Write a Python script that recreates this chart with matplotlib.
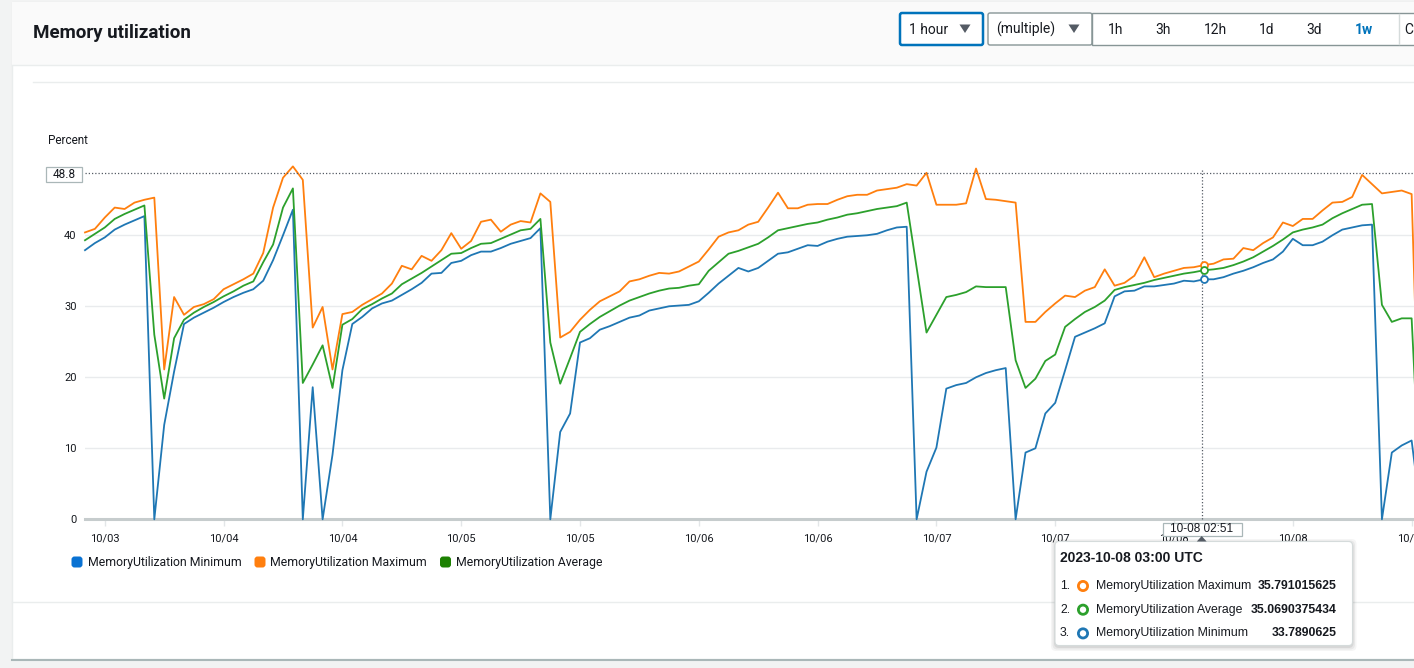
import numpy as np
import pandas as pd
import matplotlib
matplotlib.use("Agg")
import matplotlib.pyplot as plt
import matplotlib.dates as mdates
from matplotlib.patches import FancyBboxPatch, Rectangle, Polygon, Circle

# hourly samples starting 2023-10-03 10:00 UTC
times = pd.date_range("2023-10-03 10:00", periods=136, freq="h")

mem_min = [
    37.9, 38.9, 39.7, 40.8, 41.5, 42.1, 42.7, 0.0, 13.3, 20.8,
    27.5, 28.4, 29.1, 29.8, 30.6, 31.3, 31.9, 32.4, 33.6, 36.5,
    40.0, 43.6, 0.0, 18.6, 0.0, 9.1, 21.0, 27.5, 28.5, 29.7,
    30.4, 30.8, 31.6, 32.4, 33.3, 34.6, 34.7, 36.1, 36.4, 37.2,
    37.7, 37.7, 38.2, 38.8, 39.2, 39.6, 41.0, 0.0, 12.3, 14.9,
    24.9, 25.5, 26.7, 27.2, 27.8, 28.4, 28.7, 29.4, 29.7, 30.0,
    30.1, 30.2, 30.7, 31.9, 33.2, 34.3, 35.4, 34.9, 35.4, 36.4,
    37.4, 37.6, 38.1, 38.6, 38.5, 39.1, 39.5, 39.8, 39.9, 40.0,
    40.2, 40.7, 41.1, 41.2, 0.0, 6.7, 10.1, 18.4, 18.9, 19.2,
    20.0, 20.6, 21.0, 21.3, 0.0, 9.4, 10.0, 14.9, 16.4, 21.0,
    25.7, 26.3, 26.9, 27.6, 31.4, 32.1, 32.2, 32.8, 32.8, 33.0,
    33.2, 33.6, 33.5, 33.7890625, 33.8, 34.1, 34.6, 35.0, 35.5, 36.1,
    36.6, 37.7, 39.5, 38.6, 38.6, 39.1, 40.0, 40.8, 41.1, 41.4,
    41.5, 0.0, 9.4, 10.4, 11.1, 0.0,
]
mem_max = [
    40.4, 40.9, 42.5, 43.9, 43.7, 44.6, 45.0, 45.3, 21.1, 31.3,
    28.8, 29.9, 30.3, 31.0, 32.4, 33.1, 33.8, 34.6, 37.5, 43.9,
    48.1, 49.7, 47.8, 27.0, 29.9, 21.1, 28.9, 29.2, 30.2, 31.0,
    31.8, 33.2, 35.7, 35.2, 37.1, 36.4, 37.9, 40.3, 38.1, 39.2,
    41.9, 42.2, 40.5, 41.5, 42.0, 41.8, 45.9, 44.7, 25.6, 26.4,
    28.1, 29.5, 30.7, 31.4, 32.1, 33.5, 33.8, 34.3, 34.7, 34.6,
    34.9, 35.6, 36.3, 38.0, 39.8, 40.4, 40.7, 41.5, 41.9, 43.9,
    46.0, 43.8, 43.8, 44.3, 44.4, 44.4, 45.0, 45.5, 45.7, 45.7,
    46.3, 46.5, 46.7, 47.2, 47.0, 48.8, 44.3, 44.3, 44.3, 44.5,
    49.4, 45.1, 45.0, 44.8, 44.6, 27.8, 27.8, 29.2, 30.4, 31.5,
    31.3, 32.2, 32.7, 35.2, 32.9, 33.3, 34.3, 36.9, 34.1, 34.6,
    35.0, 35.4, 35.5, 35.791015625, 36.0, 36.6, 36.7, 38.2, 37.9, 38.9,
    39.7, 41.8, 41.3, 42.3, 42.3, 43.5, 44.6, 44.7, 45.4, 48.5,
    47.2, 45.9, 46.1, 46.3, 45.8, 0.0,
]
mem_avg = [
    39.3, 40.2, 41.1, 42.3, 43.0, 43.6, 44.2, 26.0, 17.0, 25.5,
    28.1, 29.1, 29.9, 30.6, 31.4, 32.1, 32.9, 33.5, 36.2, 38.7,
    43.9, 46.6, 19.2, 21.8, 24.5, 18.5, 27.4, 28.2, 29.6, 30.3,
    31.1, 31.8, 33.1, 33.9, 34.7, 35.6, 36.5, 37.4, 37.5, 38.2,
    38.8, 38.9, 39.5, 40.1, 40.7, 40.9, 42.3, 24.9, 19.1, 22.7,
    26.4, 27.5, 28.5, 29.3, 30.1, 30.8, 31.3, 31.8, 32.2, 32.5,
    32.6, 32.9, 33.1, 35.0, 36.2, 37.4, 37.8, 38.3, 38.8, 39.7,
    40.7, 41.0, 41.3, 41.6, 41.8, 42.2, 42.5, 42.9, 43.1, 43.4,
    43.7, 43.9, 44.1, 44.6, 35.5, 26.3, 28.8, 31.3, 31.6, 32.0,
    32.8, 32.7, 32.7, 32.7, 22.4, 18.5, 19.8, 22.3, 23.2, 27.1,
    28.2, 29.2, 29.9, 30.8, 32.3, 32.7, 33.0, 33.3, 33.7, 34.0,
    34.3, 34.6, 34.8, 35.0690375434, 35.2, 35.4, 35.8, 36.3, 36.9, 37.7,
    38.5, 39.4, 40.4, 40.8, 41.1, 41.5, 42.4, 43.1, 43.7, 44.3,
    44.4, 30.2, 27.8, 28.3, 28.3, 0.0,
]

series_names = ["MemoryUtilization Minimum", "MemoryUtilization Maximum", "MemoryUtilization Average"]
series_colors = ["#1f77b4", "#ff7f0e", "#2ca02c"]
legend_colors = ["#0972d3", "#ff7f0e", "#1d8102"]

hover_time = pd.Timestamp("2023-10-08 03:00")
cursor_time = pd.Timestamp("2023-10-08 02:51")
cursor_value = 48.8
tooltip_rows = [("MemoryUtilization Maximum", "35.791015625", "#ff7f0e"),
                ("MemoryUtilization Average", "35.0690375434", "#2ca02c"),
                ("MemoryUtilization Minimum", "33.7890625", "#1f77b4")]

yticks = [0, 10, 20, 30, 40]

W, H = 1414, 668
UI = "Roboto"
TIP = "Liberation Sans"
TXT = "#16191f"

fig = plt.figure(figsize=(W / 100, H / 100), dpi=100)

# page / panel background (pixel coords)
bg = fig.add_axes([0, 0, 1, 1], zorder=-10)
bg.set_xlim(0, W)
bg.set_ylim(H, 0)
bg.axis("off")
bg.add_patch(Rectangle((0, 0), W, H, fc="#f2f3f3", ec="none"))
bg.add_patch(Rectangle((12, 2), W, 657, fc="white", ec="#eaeded", lw=1))
bg.add_patch(Rectangle((12, 2), W, 63, fc="#fafafa", ec="none"))
bg.plot([12, W], [65, 65], color="#eaeded", lw=1)
bg.plot([33, W], [82, 82], color="#eaeded", lw=1)
bg.plot([12, W], [602, 602], color="#eaeded", lw=1)
bg.plot([12, W], [659.5, 659.5], color="#aab7b8", lw=1.5)
bg.text(33, 33.5, "Memory utilization", family=UI, fontsize=13.5, fontweight="bold",
        color=TXT, va="center", ha="left")

# chart
ax = fig.add_axes([85 / W, (H - 519.3) / H, (W - 85) / W, 359.3 / H])
ax.set_facecolor("none")
for name, vals, col in zip(series_names, [mem_min, mem_max, mem_avg], series_colors):
    ax.plot(times, vals, color=col, lw=1.3, clip_on=False, label=name, zorder=3)

x0 = times[0]
ax.set_xlim(x0, x0 + pd.Timedelta(hours=134.24))
ax.set_ylim(0, 50.6)
ax.set_yticks(yticks)
ax.set_yticklabels([str(v) for v in yticks])
ax.xaxis.set_major_locator(mdates.HourLocator(byhour=[0, 12]))
ax.xaxis.set_major_formatter(mdates.DateFormatter("%m/%d"))
ax.grid(axis="y", color="#e9ebed", lw=1)
ax.set_axisbelow(True)
for s in ["top", "right", "left"]:
    ax.spines[s].set_visible(False)
ax.spines["bottom"].set_color("#c6cccd")
ax.spines["bottom"].set_linewidth(2.2)
ax.tick_params(axis="y", length=0, pad=6, labelsize=8, labelcolor=TXT)
ax.tick_params(axis="x", length=5, color="#e3e6e8", width=1, pad=5, labelsize=8, labelcolor=TXT)
for lab in ax.get_xticklabels() + ax.get_yticklabels():
    lab.set_family(UI)

# hover crosshair and markers
ax.axhline(cursor_value, color="#545b64", lw=0.9, ls=(0, (1, 1.6)), zorder=4)
ax.vlines(cursor_time, 0, 49.5, color="#545b64", lw=0.9, ls=(0, (1, 1.6)), zorder=4, clip_on=False)
hi = list(times).index(hover_time)
for vals, col in zip([mem_max, mem_avg, mem_min], ["#ff7f0e", "#2ca02c", "#1f77b4"]):
    ax.plot(times[hi], vals[hi], "o", ms=5, mfc="white", mec=col, mew=1.3, zorder=6, clip_on=False)

# foreground widgets (pixel coords)
fg = fig.add_axes([0, 0, 1, 1], zorder=10)
fg.set_xlim(0, W)
fg.set_ylim(H, 0)
fg.axis("off")

fg.add_patch(FancyBboxPatch((900, 13), 83, 32, boxstyle="round,pad=0,rounding_size=2",
                            fc="white", ec="#0073bb", lw=1.8))
fg.text(909, 29.5, "1 hour", family=UI, fontsize=10, color=TXT, va="center")
fg.add_patch(FancyBboxPatch((988, 13), 104, 32, boxstyle="round,pad=0,rounding_size=2",
                            fc="white", ec="#879596", lw=1))
fg.text(996, 29.5, "(multiple)", family=UI, fontsize=10, color=TXT, va="center")
for tx in [965, 1074]:
    fg.add_patch(Polygon([(tx - 5.5, 24.5), (tx + 5.5, 24.5), (tx, 33)], closed=True,
                         fc="#545b64", ec="none"))
fg.add_patch(Rectangle((1092, 13), 340, 32, fc="white", ec="#879596", lw=1))
fg.plot([1398.5, 1398.5], [14, 44], color="#d5dbdb", lw=1)
for lbl, cx in zip(["1h", "3h", "12h", "1d", "3d"], [1116, 1163, 1215, 1267, 1314]):
    fg.text(cx, 29.5, lbl, family=UI, fontsize=10, color=TXT, va="center", ha="center")
fg.text(1364, 29.5, "1w", family=UI, fontsize=10, color="#0073bb", fontweight="bold",
        va="center", ha="center")
fg.text(1404, 29.5, "C", family=UI, fontsize=10, color=TXT, va="center", ha="left")

fg.text(48, 141, "Percent", family=UI, fontsize=8.5, color=TXT, va="center")
fg.add_patch(Rectangle((46, 167), 36, 14.5, fc="white", ec="#aab7b8", lw=0.9))
fg.text(64, 174.5, f"{cursor_value}", family=UI, fontsize=8.5, color=TXT, va="center", ha="center")

# legend
for name, col, sx, tx in zip(series_names, legend_colors, [71.5, 254.5, 440], [88, 270.5, 455.5]):
    fg.add_patch(FancyBboxPatch((sx, 556.5), 11, 11, boxstyle="round,pad=0,rounding_size=3",
                                fc=col, ec="none"))
    fg.text(tx, 562.5, name, family=UI, fontsize=8.8, color=TXT, va="center", ha="left")

# cursor time label
fg.add_patch(Rectangle((1162.7, 522.5), 79.3, 13.5, fc="white", ec="#aab7b8", lw=0.9))
fg.text(1202, 529.5, cursor_time.strftime("%m-%d %H:%M"), family=TIP, fontsize=8.5,
        color=TXT, va="center", ha="center")

# tooltip with soft shadow
for k, a in [(5, 0.04), (3.5, 0.05), (2, 0.07)]:
    fg.add_patch(FancyBboxPatch((1055 - k + 1, 541.5 - k + 2.5), 297.5 + 2 * k - 2, 104 + 2 * k - 2,
                                boxstyle="round,pad=0,rounding_size=5", fc="black", ec="none", alpha=a))
fg.add_patch(FancyBboxPatch((1055, 541.5), 297.5, 104, boxstyle="round,pad=0,rounding_size=4",
                            fc="white", ec="#d5dbdb", lw=0.8))
fg.add_patch(Polygon([(1196.8, 541.5), (1206.6, 541.5), (1201.7, 536)], closed=True,
                     fc="#545b64", ec="none"))
fg.text(1060, 558, hover_time.strftime("%Y-%m-%d %H:%M") + " UTC", family=TIP, fontsize=10,
        fontweight="bold", color=TXT, va="center", ha="left")
for i, (name, val, col) in enumerate(tooltip_rows):
    y = 586 + i * 23.7
    fg.text(1060, y, f"{i + 1}.", family=TIP, fontsize=8.8, color=TXT, va="center")
    fg.add_patch(Circle((1083, y), 4.6, fc="white", ec=col, lw=2))
    fg.text(1096, y, name, family=TIP, fontsize=8.8, color=TXT, va="center")
    fg.text(1337, y, val, family=TIP, fontsize=8.8, fontweight="bold", color=TXT,
            va="center", ha="right")

fig.savefig("out.png", dpi=100)
